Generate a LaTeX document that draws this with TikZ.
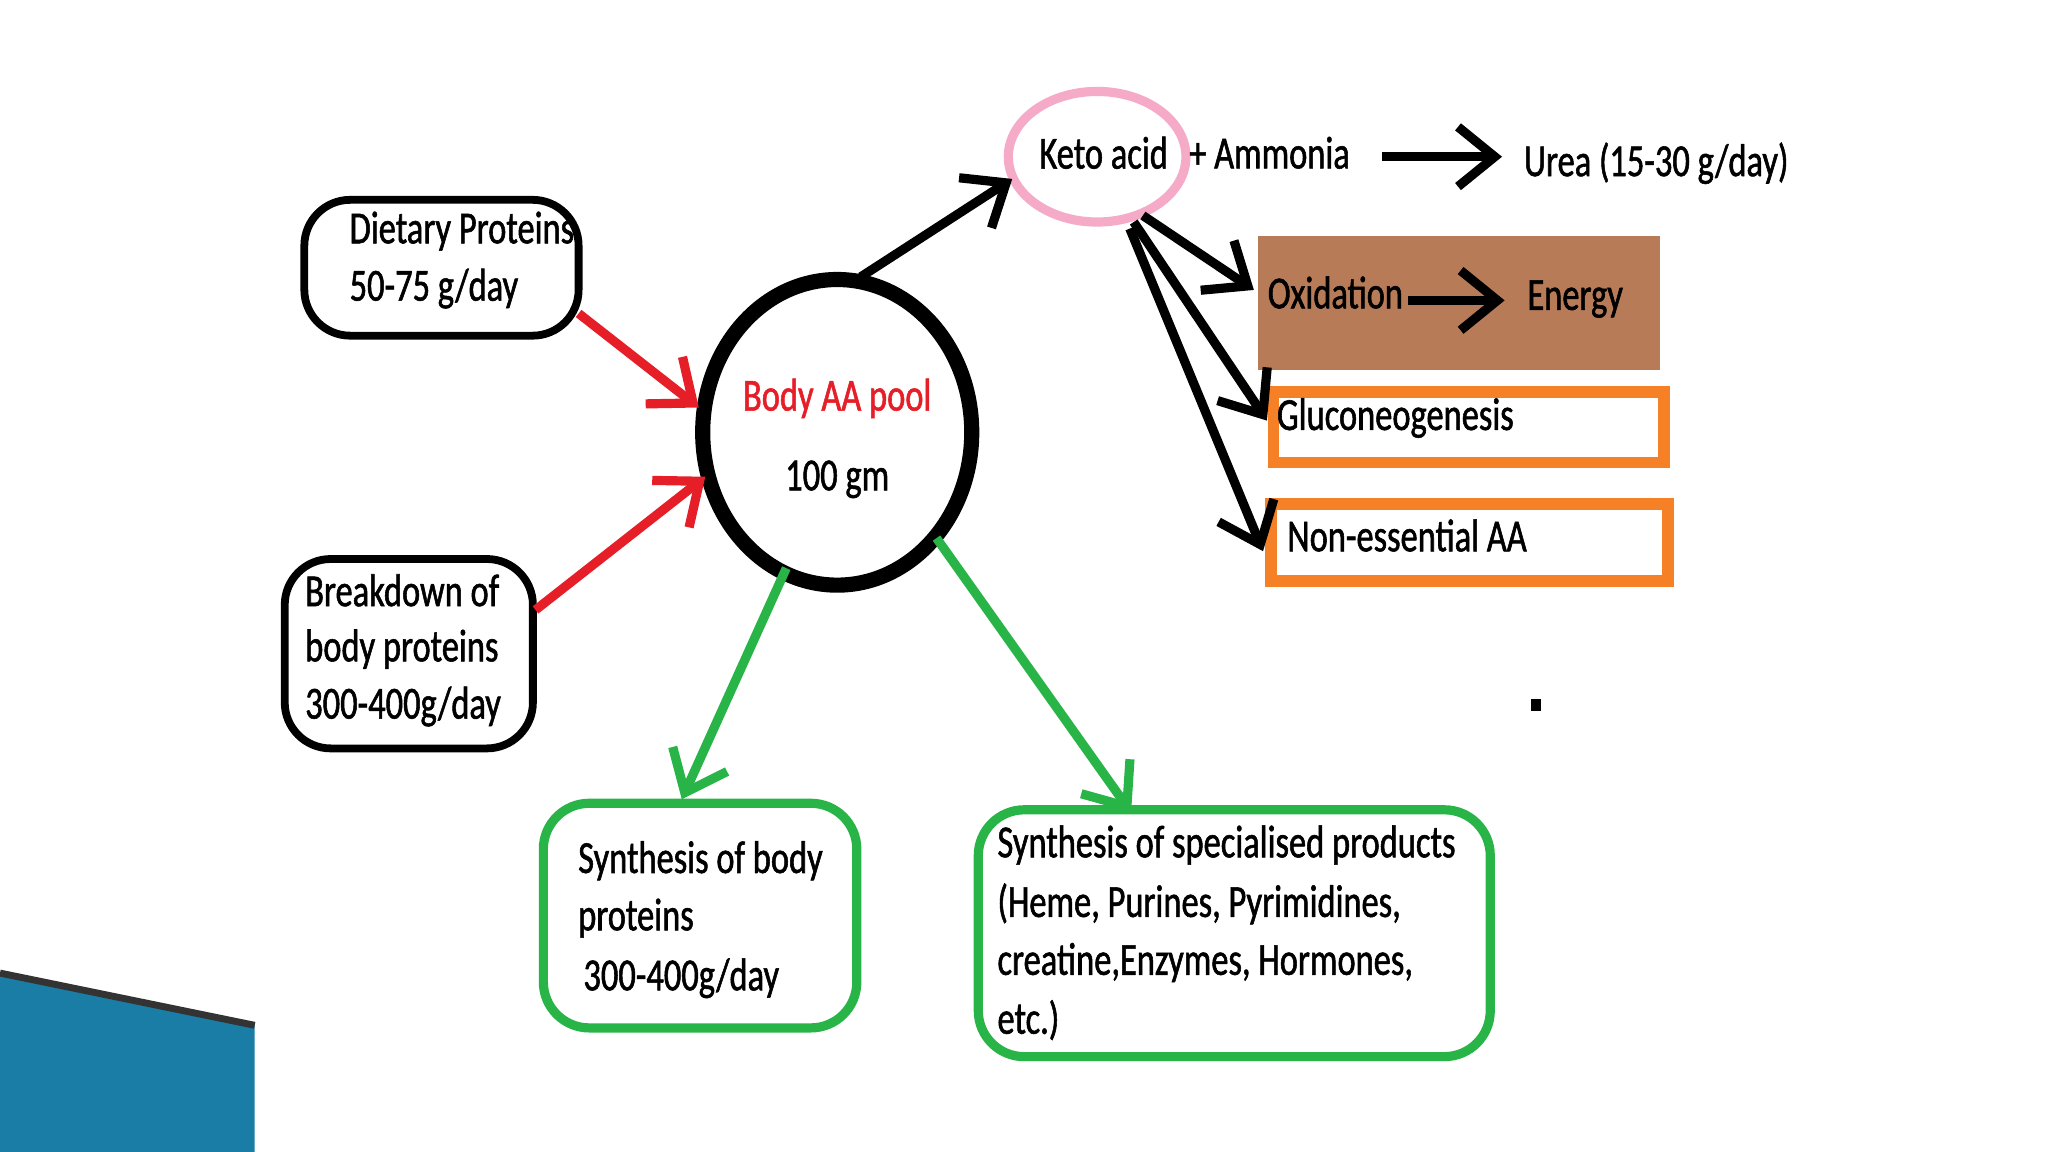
\documentclass[tikz,border=0pt]{standalone}
\usepackage{fontspec}
\setmainfont{Carlito}[FakeStretch=0.75,FakeBold=1.2]
\usetikzlibrary{arrows.meta}
\definecolor{brn}{RGB}{184,123,88}
\definecolor{org}{RGB}{245,128,37}
\definecolor{grn}{RGB}{40,180,70}
\definecolor{pnk}{RGB}{245,170,200}
\definecolor{rd}{RGB}{230,30,40}
\definecolor{tea}{RGB}{25,125,165}
\begin{document}
\begin{tikzpicture}[x=0.01cm,y=-0.01cm,
  t/.style={font=\fontsize{10}{11}\selectfont,inner sep=0pt},
  tl/.style={t,anchor=west},
  bx/.style={line width=1.7pt,rounded corners=10pt},
  ar/.style={-{Straight Barb[length=8pt,width=13pt,line width=2pt]},line width=2pt}]
\useasboundingbox (0,0) rectangle (1568,882);
% decoration
\fill[tea] (0,745) -- (195,785) -- (195,882) -- (0,882) -- cycle;
\draw[line width=1.5pt,black!80] (0,745) -- (195,785);
% boxes
\draw[bx] (233,153) rectangle (443,257);
\node[tl] (d1) at (267,177) {Dietary Proteins};
\node[tl] (d2) at (267,221) {50-75 g/day};
\draw[bx] (218,428) rectangle (408,573);
\node[tl] at (233,452) {Breakdown of};
\node[tl] at (233,497) {body proteins};
\node[tl] at (233,541) {300-400g/day};
\coordinate (dbox) at (443,240);
\coordinate (bbox) at (410,467);
% pool
\draw[line width=3.3pt] (641,331) ellipse (103 and 117);
\node[t,text=rd] (pool) at (641,305) {Body AA pool};
\node[t] at (641,367) {100 gm};
% keto
\draw[pnk,line width=2pt] (840,120) ellipse (68 and 50);
\node[t] (keto) at (845,117) {Keto acid};
\node[t] (amm) at (972,117) {+ Ammonia};
\node[t] (urea) at (1268,125) {Urea (15-30 g/day)};
\fill[brn] (963,181) rectangle (1271,283);
\node[tl] (ox) at (970,224) {Oxidation};
\node[t] (en) at (1206,229) {Energy};
\draw[org,line width=2.5pt] (975,300) rectangle (1274,354);
\node[tl] (glu) at (977,320) {Gluconeogenesis};
\draw[org,line width=2.5pt] (973,386) rectangle (1277,445);
\node[tl] (ne) at (985,410) {Non-essential AA};
% green boxes
\draw[bx,grn,line width=2pt] (416,615) rectangle (656,787);
\node[tl] at (442,659) {Synthesis of body};
\node[tl] at (442,703) {proteins};
\node[tl] at (446,749) {300-400g/day};
\draw[bx,grn,line width=2pt] (749,620) rectangle (1141,809);
\node[tl] at (763,647) {Synthesis of specialised products};
\node[tl] at (763,692) {(Heme, Purines, Pyrimidines,};
\node[tl] at (763,737) {creatine,Enzymes, Hormones,};
\node[tl] at (763,781) {etc.)};
\fill (1172,535) rectangle (1180,544);
% arrows
\draw[ar] (659,212) -- (775,137);
\draw[ar] (1058,120) -- (1150,120);
\draw[ar] (1078,230) -- (1152,230);
\draw[ar] (875,165) -- (960,222);
\draw[ar] (868,170) -- (970,322);
\draw[ar] (865,175) -- (967,422);
\draw[ar,rd] (dbox) -- (535,312);
\draw[ar,rd] (bbox) -- (540,365);
\draw[ar,grn] (602,435) -- (522,612);
\draw[ar,grn] (717,412) -- (866,622);
\end{tikzpicture}
\end{document}
